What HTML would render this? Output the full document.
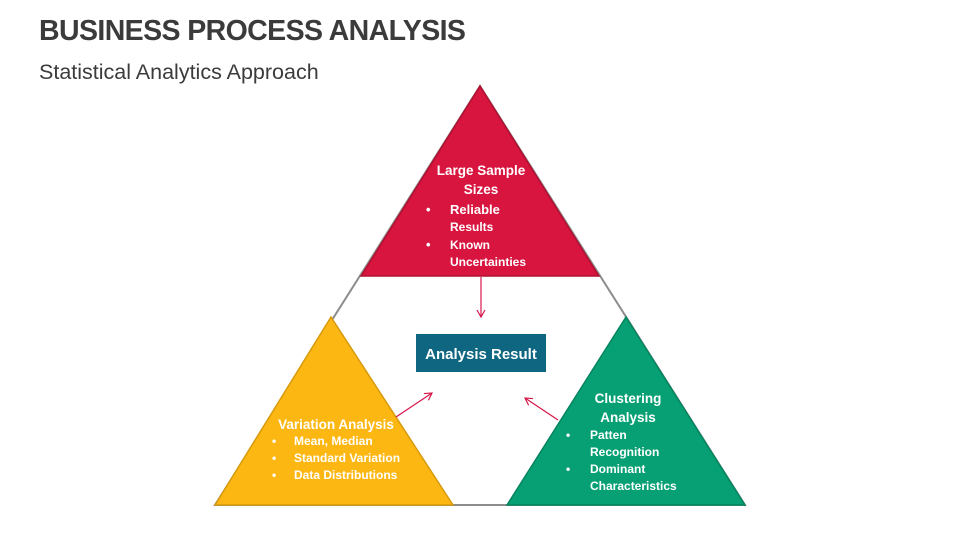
<!DOCTYPE html>
<html><head><meta charset="utf-8"><style>
body{margin:0;width:960px;height:540px;background:#fff;overflow:hidden;position:relative;font-family:"Liberation Sans",sans-serif}
.t{position:absolute;left:39px;top:15px;font-size:28.5px;font-weight:bold;color:#3b3b3b;letter-spacing:-0.6px}
.s{position:absolute;left:39px;top:60px;font-size:21.5px;color:#3b3b3b}
svg{position:absolute;left:0;top:0}
</style></head><body>
<div class="t">BUSINESS PROCESS ANALYSIS</div>
<div class="s">Statistical Analytics Approach</div>
<svg width="960" height="540" font-family="Liberation Sans, sans-serif">
<defs><marker id="a" markerWidth="10" markerHeight="10" refX="8" refY="5" orient="auto" markerUnits="userSpaceOnUse"><path d="M1,1 L8,5 L1,9" fill="none" stroke="#d6174a" stroke-width="1.2"/></marker></defs>
<polygon points="480,86 215,505 745,505" fill="none" stroke="#8c8c8c" stroke-width="2"/>
<polygon points="480,86 361,276 599,276" fill="#d7153f" stroke="#b01030" stroke-width="1.5"/>
<polygon points="331,317 215,505 453,505" fill="#fdb713" stroke="#d69a0c" stroke-width="1.5"/>
<polygon points="626,317 507,505 745,505" fill="#06a074" stroke="#05845f" stroke-width="1.5"/>
<line x1="481" y1="277" x2="481" y2="317" stroke="#d6174a" stroke-width="1.2" marker-end="url(#a)"/>
<line x1="396" y1="417" x2="432" y2="393" stroke="#d6174a" stroke-width="1.2" marker-end="url(#a)"/>
<line x1="558" y1="420" x2="525" y2="398" stroke="#d6174a" stroke-width="1.2" marker-end="url(#a)"/>
<rect x="416" y="334" width="130" height="38" fill="#0f6680"/>
<text x="481" y="359" text-anchor="middle" fill="#fff" font-size="15" font-weight="bold">Analysis Result</text>
<g fill="#fff" font-size="13" font-weight="600">
<text x="481" y="175" text-anchor="middle" font-weight="bold" font-size="13.5">Large Sample</text>
<text x="481" y="194" text-anchor="middle" font-weight="bold" font-size="13.5">Sizes</text>
<text x="426" y="214">•</text><text x="450" y="214">Reliable</text>
<text x="450" y="231" font-size="12">Results</text>
<text x="426" y="249">•</text><text x="450" y="249" font-size="12">Known</text>
<text x="450" y="266" font-size="12">Uncertainties</text>
<text x="336" y="429" text-anchor="middle" font-weight="bold" font-size="13.5">Variation Analysis</text>
<g font-size="12"><text x="272" y="445">•</text><text x="294" y="445">Mean, Median</text>
<text x="272" y="462">•</text><text x="294" y="462">Standard Variation</text>
<text x="272" y="479">•</text><text x="294" y="479">Data Distributions</text></g>
<text x="628" y="403" text-anchor="middle" font-weight="bold" font-size="13.5">Clustering</text>
<text x="628" y="422" text-anchor="middle" font-weight="bold" font-size="13.5">Analysis</text>
<g font-size="12"><text x="566" y="439">•</text><text x="590" y="439">Patten</text>
<text x="590" y="456">Recognition</text>
<text x="566" y="473">•</text><text x="590" y="473">Dominant</text>
<text x="590" y="490">Characteristics</text></g>
</g>
</svg>
</body></html>
